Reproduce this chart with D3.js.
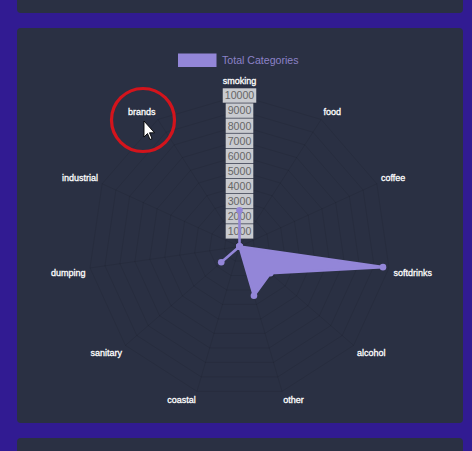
<!DOCTYPE html>
<html>
  <head>
    <script src="https://cdnjs.cloudflare.com/ajax/libs/d3/7.8.5/d3.min.js" charset="utf-8"></script>
    <style type="text/css">
      body {
        margin: 0;
        background: #311b92;
        font-family: "Liberation Sans", Arial, sans-serif;
      }
    </style>
  </head>
  <body>
    <script type="text/javascript">
      // chart data
      var categories = ["smoking", "food", "coffee", "softdrinks", "alcohol", "other",
                        "coastal", "sanitary", "dumping", "industrial", "brands"];
      var totals = [2400, 0, 0, 9600, 2700, 3400, 0, 1600, 0, 0, 0];
      var tickValues = [1000, 2000, 3000, 4000, 5000, 6000, 7000, 8000, 9000, 10000];
      var seriesName = "Total Categories";

      var w = 472, h = 451,
          cx = 239.5, cy = 246.5,
          R = 151,
          labelR = R + 4.5,
          fillColor = "#9386d8";

      var svg = d3.select("body").append("svg")
          .attr("width", w)
          .attr("height", h);

      // the dark cards
      svg.append("rect").attr("x", 17).attr("y", -10).attr("width", 446).attr("height", 23)
         .attr("rx", 4).attr("fill", "#2a3043");
      svg.append("rect").attr("x", 17).attr("y", 28).attr("width", 446).attr("height", 395)
         .attr("rx", 4).attr("fill", "#2a3043");
      svg.append("rect").attr("x", 17).attr("y", 438).attr("width", 446).attr("height", 30)
         .attr("rx", 4).attr("fill", "#2a3043");

      var rScale = d3.scaleLinear().domain([0, 10000]).range([0, R]);
      var aScale = d3.scaleLinear().domain([0, categories.length]).range([0, 2 * Math.PI]);

      var g = svg.append("g").attr("transform", "translate(" + [cx, cy] + ")");

      // polygon grid, one ring per tick
      var ring = d3.lineRadial()
          .angle(function(d, i) { return aScale(i); })
          .radius(function(d) { return rScale(d); })
          .curve(d3.curveLinearClosed);

      g.selectAll(".grid")
        .data(tickValues)
        .enter().append("path")
        .attr("class", "grid")
        .attr("d", function(t) { return ring(categories.map(function() { return t; })); })
        .attr("fill", "none")
        .attr("stroke", "rgba(0,0,0,0.08)")
        .attr("stroke-width", 1);

      // angle lines
      g.selectAll(".spoke")
        .data(categories)
        .enter().append("line")
        .attr("class", "spoke")
        .attr("x1", 0).attr("y1", 0)
        .attr("x2", function(d, i) { return R * Math.sin(aScale(i)); })
        .attr("y2", function(d, i) { return -R * Math.cos(aScale(i)); })
        .attr("stroke", "rgba(0,0,0,0.08)")
        .attr("stroke-width", 1);

      // tick labels with their light backdrop
      var tick = g.selectAll(".tick")
        .data(tickValues)
        .enter().append("g")
        .attr("class", "tick")
        .attr("transform", function(d) { return "translate(0," + (-rScale(d)) + ")"; });

      tick.append("rect")
        .attr("x", function(d) { return -(String(d).length * 5.9 + 4) / 2; })
        .attr("y", -7.2)
        .attr("width", function(d) { return String(d).length * 5.9 + 4; })
        .attr("height", 14.4)
        .attr("fill", "rgba(255,255,255,0.75)");

      tick.append("text")
        .attr("text-anchor", "middle")
        .attr("dy", "0.36em")
        .attr("font-size", "10.6px")
        .attr("fill", "#666")
        .text(function(d) { return d; });

      // the series
      var area = d3.lineRadial()
          .angle(function(d, i) { return aScale(i); })
          .radius(function(d) { return rScale(d); })
          .curve(d3.curveLinearClosed);

      g.append("path")
        .datum(totals)
        .attr("d", area)
        .attr("fill", fillColor)
        .attr("stroke", fillColor)
        .attr("stroke-width", 2.6)
        .attr("stroke-linejoin", "round");

      g.selectAll(".dot")
        .data(totals)
        .enter().append("circle")
        .attr("class", "dot")
        .attr("cx", function(d, i) { return rScale(d) * Math.sin(aScale(i)); })
        .attr("cy", function(d, i) { return -rScale(d) * Math.cos(aScale(i)); })
        .attr("r", 3.3)
        .attr("fill", fillColor);

      // point labels, placed like chart.js does it (first one pushed out for the tick box)
      function labelDist(i) { return labelR + (i == 0 ? 5.7 : 0); }

      g.selectAll(".plabel")
        .data(categories)
        .enter().append("text")
        .attr("class", "plabel")
        .attr("x", function(d, i) { return labelDist(i) * Math.sin(aScale(i)); })
        .attr("y", function(d, i) { return -labelDist(i) * Math.cos(aScale(i)); })
        .attr("text-anchor", function(d, i) {
          var s = Math.sin(aScale(i));
          return Math.abs(s) < 0.01 ? "middle" : (s > 0 ? "start" : "end");
        })
        .attr("dy", function(d, i) {
          return Math.cos(aScale(i)) > 0 ? "-0.12em" : "0.86em";
        })
        .attr("font-size", "9px")
        .attr("fill", "#ffffff")
        .attr("stroke", "#ffffff")
        .attr("stroke-width", 0.3)
        .text(function(d) { return d; });

      // legend
      svg.append("rect").attr("x", 178).attr("y", 53.5).attr("width", 38.5).attr("height", 13.5)
         .attr("fill", fillColor);
      svg.append("text").attr("x", 222).attr("y", 64)
         .attr("font-size", "10.6px")
         .attr("fill", "#8c82c8")
         .text(seriesName);

      // red highlight circle and mouse pointer from the screenshot
      svg.append("circle").attr("cx", 143).attr("cy", 120).attr("r", 31.5)
         .attr("fill", "none").attr("stroke", "#d3141c").attr("stroke-width", 3.2);
      svg.append("path")
         .attr("d", "M144,121 L144,137 L147.5,133.5 L150,139.5 L152,138.5 L149.5,132.8 L154.5,132.8 Z")
         .attr("fill", "#ffffff").attr("stroke", "#000").attr("stroke-width", 0.9);
    </script>
  </body>
</html>
